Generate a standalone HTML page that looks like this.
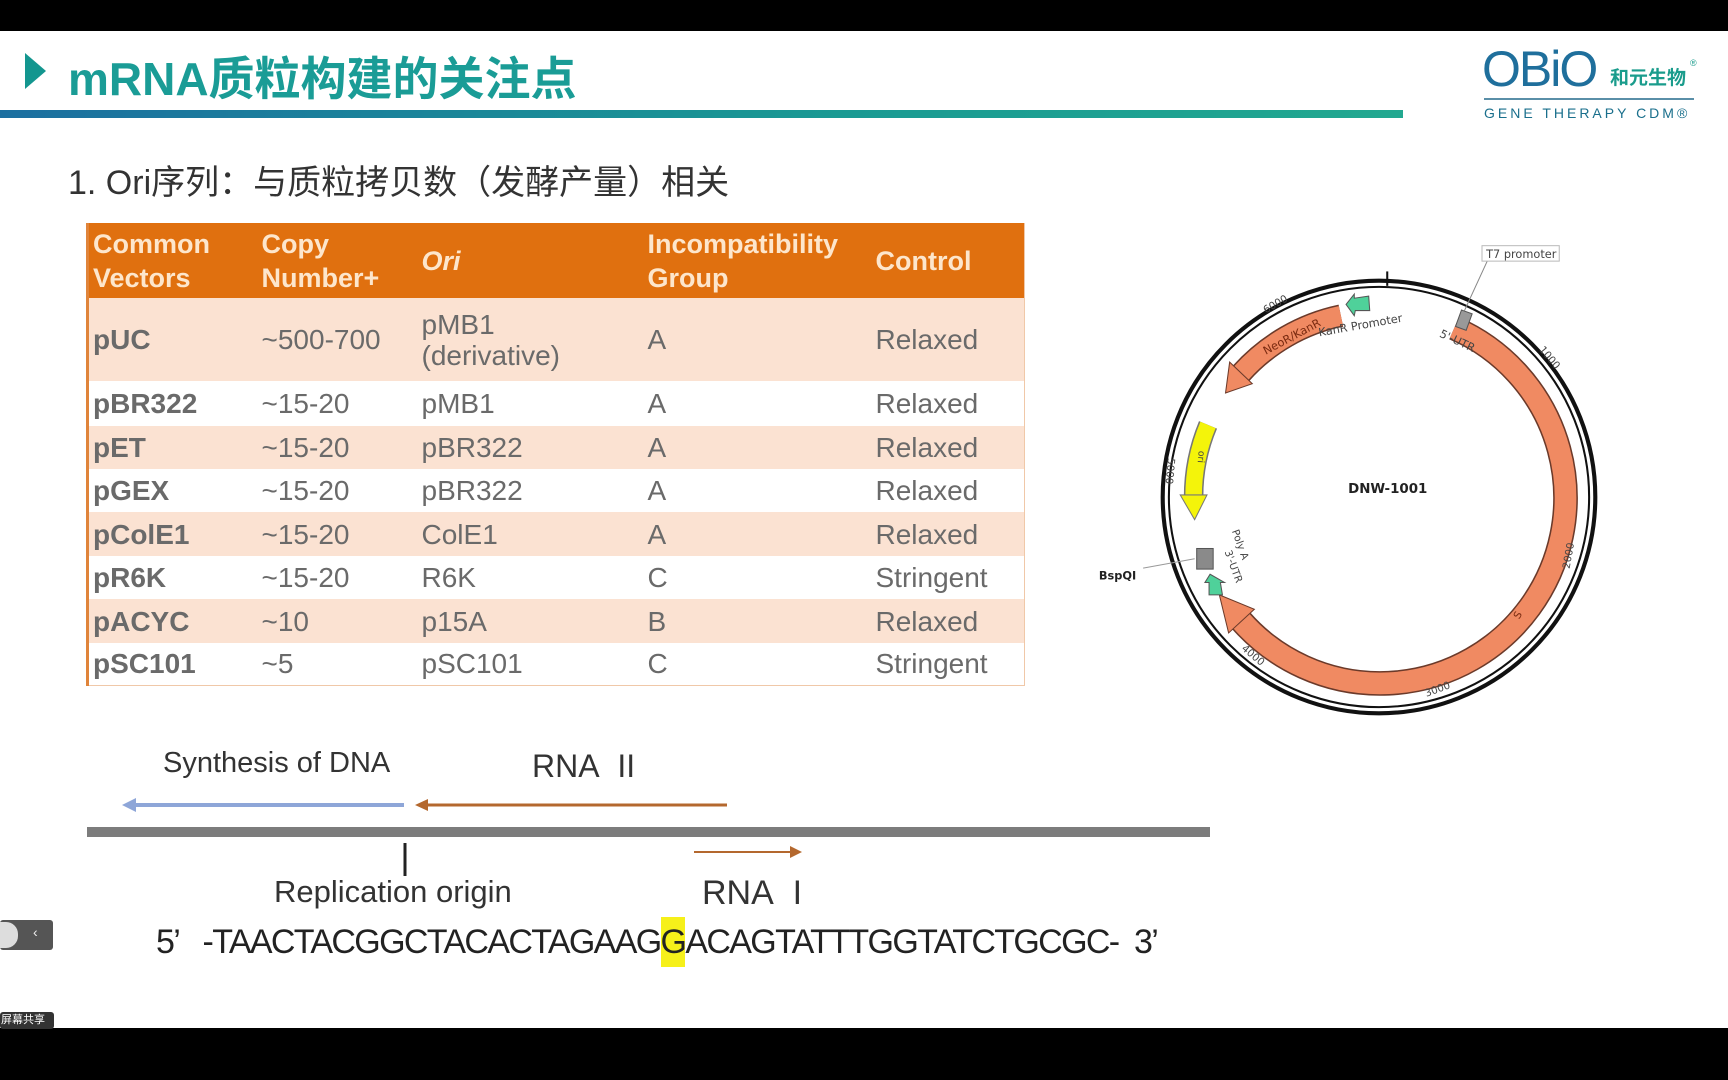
<!DOCTYPE html>
<html><head><meta charset="utf-8"><style>
*{margin:0;padding:0;box-sizing:border-box}
body{width:1728px;height:1080px;position:relative;background:#fff;overflow:hidden;font-family:"Liberation Sans","Noto Sans CJK SC",sans-serif}
.a{position:absolute;white-space:nowrap}
table{position:absolute;left:86px;top:223px;width:939px;border-collapse:collapse;border-left:3px solid #e0843a;border-right:1px solid #f0c8a8;border-bottom:1px solid #f0c8a8}
td{font-size:28px;color:#6a6a6a;padding:0 0 0 4px;vertical-align:middle;line-height:31px}
tr.h td{background:#e0700f;color:#fde6cc;font-weight:bold;font-size:27px;line-height:34px;height:75px}
tr.o td{background:#fbe2d2}
td.b{font-weight:bold}
</style></head><body>
<div class="a" style="left:0;top:0;width:1728px;height:31px;background:#000"></div>
<div class="a" style="left:0;top:1028px;width:1728px;height:52px;background:#000"></div>

<div class="a" style="left:25px;top:53px;width:0;height:0;border-top:18px solid transparent;border-bottom:18px solid transparent;border-left:21px solid #13968f"></div>
<div class="a" style="left:68px;top:43px;font-size:46px;color:#1a9c96;font-weight:bold">mRNA质粒构建的关注点</div>
<div class="a" style="left:0;top:110px;width:1403px;height:8px;background:linear-gradient(90deg,#1c6fa0,#1a9a93 60%,#22a890)"></div>

<div class="a" style="left:1482px;top:40px;font-size:50px;color:#1f6f9c;letter-spacing:-2px">OBiO</div>
<div class="a" style="left:1610px;top:63px;font-size:19px;color:#1a9c8c;font-weight:bold">和元生物</div>
<div class="a" style="left:1690px;top:58px;font-size:9px;color:#1a9c8c">®</div>
<div class="a" style="left:1484px;top:98px;width:210px;height:2px;background:#5a8fa8"></div>
<div class="a" style="left:1484px;top:105px;font-size:14px;color:#1a6f8c;letter-spacing:3px">GENE THERAPY CDM®</div>

<div class="a" style="left:68px;top:155px;font-size:34px;color:#333">1. Ori序列：与质粒拷贝数（发酵产量）相关</div>

<table>
<tr class="h"><td style="width:170px">Common<br>Vectors</td><td style="width:160px">Copy<br>Number+</td><td style="width:226px;font-style:italic">Ori</td><td style="width:228px">Incompatibility<br>Group</td><td>Control</td></tr>
<tr class="o" style="height:83px"><td class="b">pUC</td><td>~500-700</td><td>pMB1<br>(derivative)</td><td>A</td><td>Relaxed</td></tr>
<tr style="height:45px"><td class="b">pBR322</td><td>~15-20</td><td>pMB1</td><td>A</td><td>Relaxed</td></tr>
<tr class="o" style="height:43px"><td class="b">pET</td><td>~15-20</td><td>pBR322</td><td>A</td><td>Relaxed</td></tr>
<tr style="height:43px"><td class="b">pGEX</td><td>~15-20</td><td>pBR322</td><td>A</td><td>Relaxed</td></tr>
<tr class="o" style="height:44px"><td class="b">pColE1</td><td>~15-20</td><td>ColE1</td><td>A</td><td>Relaxed</td></tr>
<tr style="height:43px"><td class="b">pR6K</td><td>~15-20</td><td>R6K</td><td>C</td><td>Stringent</td></tr>
<tr class="o" style="height:44px"><td class="b">pACYC</td><td>~10</td><td>p15A</td><td>B</td><td>Relaxed</td></tr>
<tr style="height:42px"><td class="b">pSC101</td><td>~5</td><td>pSC101</td><td>C</td><td>Stringent</td></tr>
</table>

<svg class="a" style="left:0;top:0" width="1728" height="1080" font-family="DejaVu Sans, sans-serif">
<g transform="translate(1379 497) scale(1.03) translate(-1372 -503)">
<circle cx="1372" cy="503" r="210" fill="none" stroke="#111" stroke-width="4"/>
<circle cx="1372" cy="503" r="204" fill="none" stroke="#111" stroke-width="2"/>
<line x1="1380" y1="284" x2="1380" y2="298" stroke="#111" stroke-width="2"/>
<path d="M1445 339 A180 180 0 1 1 1238 623" fill="none" stroke="#6b3a2a" stroke-width="24"/>
<path d="M1445 339 A180 180 0 1 1 1238 623" fill="none" stroke="#f08a62" stroke-width="21"/>
<polygon points="1251,612 1226,635 1217,598" fill="#f08a62" stroke="#6b3a2a" stroke-width="1"/>
<path d="M1335 327 A180 180 0 0 0 1238 383" fill="none" stroke="#6b3a2a" stroke-width="22"/>
<path d="M1335 327 A180 180 0 0 0 1238 383" fill="none" stroke="#f08a62" stroke-width="19"/>
<polygon points="1249,393 1227,372 1223,402" fill="#f08a62" stroke="#6b3a2a" stroke-width="1"/>
<text x="1262" y="365" font-size="11" fill="#7a2a10" transform="rotate(-28 1262 365)">NeoR/KanR</text>
<polygon points="1340,316 1348,306 1348,310 1362,308 1363,322 1349,322 1348,327" fill="#4fd19a" stroke="#555" stroke-width="1"/>
<text x="1314" y="347" font-size="11" fill="#444" transform="rotate(-10 1314 347)">KanR Promoter</text>
<path d="M1206 433 A180 180 0 0 0 1192 503" fill="none" stroke="#777" stroke-width="19"/>
<path d="M1206 433 A180 180 0 0 0 1192 503" fill="none" stroke="#f4f40a" stroke-width="16"/>
<polygon points="1205,501 1179,501 1193,525" fill="#f4f40a" stroke="#777" stroke-width="1"/>
<text x="1197" y="458" font-size="9" fill="#444" transform="rotate(95 1197 458)">ori</text>
<rect x="1449" y="323" width="11" height="17" fill="#999" stroke="#555" transform="rotate(20 1455 331)"/>
<line x1="1455" y1="322" x2="1478" y2="272" stroke="#888"/>
<rect x="1472" y="259" width="75" height="15" fill="#fff" stroke="#bbb"/>
<text x="1476" y="271" font-size="11" fill="#444">T7 promoter</text>
<text x="1430" y="347" font-size="11" fill="#444" transform="rotate(25 1430 347)">5'-UTR</text>
<rect x="1195" y="553" width="16" height="20" fill="#8a8a8a" stroke="#555"/>
<polygon points="1208,578 1222,586 1218,586 1220,598 1207,598 1207,586 1203,586" fill="#4fd19a" stroke="#555"/>
<text x="1229" y="536" font-size="10" fill="#444" transform="rotate(70 1229 536)">Poly A</text>
<text x="1222" y="556" font-size="10" fill="#444" transform="rotate(70 1222 556)">3'-UTR</text>
<line x1="1143" y1="572" x2="1193" y2="563" stroke="#999"/>
<text x="1100" y="583" font-size="11" font-weight="bold" fill="#222">BspQI</text>
<text x="1342" y="499" font-size="13" font-weight="bold" fill="#222">DNW-1001</text>
<text x="1262" y="325" font-size="10" fill="#444" transform="rotate(-30 1262 325)">6000</text>
<text x="1527" y="360" font-size="10" fill="#444" transform="rotate(50 1527 360)">1000</text>
<text x="1167" y="465" font-size="10" fill="#444" transform="rotate(95 1167 465)">5000</text>
<text x="1557" y="573" font-size="10" fill="#444" transform="rotate(-80 1557 573)">2000</text>
<text x="1238" y="651" font-size="10" fill="#444" transform="rotate(40 1238 651)">4000</text>
<text x="1418" y="697" font-size="10" fill="#444" transform="rotate(-20 1418 697)">3000</text>
<text x="1508" y="622" font-size="10" fill="#7a2a10" transform="rotate(-60 1508 622)">S</text>
</g>
<rect x="87" y="827" width="1123" height="10" fill="#7c7c7c"/>
<line x1="130" y1="805" x2="404" y2="805" stroke="#8ea6d8" stroke-width="4"/>
<polygon points="122,805 136,798 136,812" fill="#8ea6d8"/>
<line x1="425" y1="805" x2="727" y2="805" stroke="#b4682e" stroke-width="3"/>
<polygon points="415,805 428,799 428,811" fill="#b4682e"/>
<line x1="694" y1="852" x2="792" y2="852" stroke="#b4682e" stroke-width="2"/>
<polygon points="802,852 790,846 790,858" fill="#b4682e"/>
<line x1="405" y1="843" x2="405" y2="876" stroke="#222" stroke-width="3"/>
</svg>
<div class="a" style="left:163px;top:747px;font-size:29px;color:#333">Synthesis of DNA</div>
<div class="a" style="left:532px;top:748px;font-size:32px;color:#333">RNA&nbsp;&nbsp;II</div>
<div class="a" style="left:274px;top:874px;font-size:31px;color:#333">Replication origin</div>
<div class="a" style="left:702px;top:874px;font-size:34px;color:#333">RNA&nbsp;&nbsp;I</div>
<div class="a" style="left:156px;top:923px;font-size:34px;color:#222;letter-spacing:-1.65px">5’&nbsp;&nbsp;&nbsp;-TAACTACGGCTACACTAGAAG<span style="background:#f6f01a;padding:6px 0">G</span>ACAGTATTTGGTATCTGCGC-&nbsp;&nbsp;3’</div>

<div class="a" style="left:0;top:920px;width:53px;height:30px;background:#555;border-radius:3px"></div>
<div class="a" style="left:0;top:922px;width:18px;height:26px;background:#ddd;border-radius:0 12px 12px 0"></div>
<div class="a" style="left:33px;top:924px;font-size:14px;color:#eee">‹</div>
<div class="a" style="left:0;top:1012px;width:54px;height:17px;background:#333;border-radius:3px;font-size:11px;color:#fff;padding-left:1px;line-height:17px">屏幕共享</div>
</body></html>
